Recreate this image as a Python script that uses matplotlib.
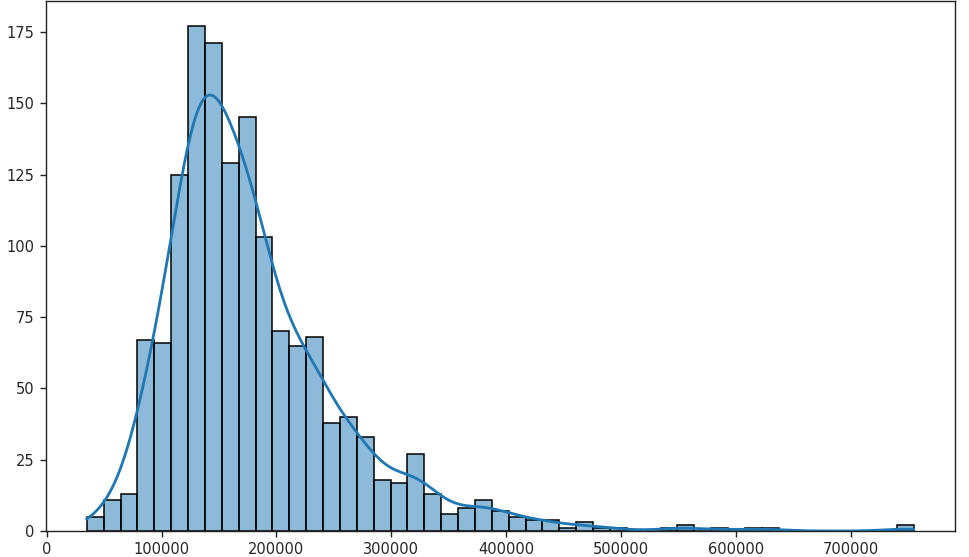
import numpy as np
import matplotlib
matplotlib.use("Agg")
import matplotlib.pyplot as plt

# Histogram of sale prices (49 equal-width bins between min and max)
price_min = 34900
price_max = 755000
counts = [5, 11, 13, 67, 66, 125, 177, 171, 129, 145,
          103, 70, 65, 68, 38, 40, 33, 18, 17, 27,
          13, 6, 8, 11, 7, 5, 4, 4, 1, 3,
          1, 1, 0, 0, 1, 2, 0, 1, 0, 1,
          1, 0, 0, 0, 0, 0, 0, 0, 2]
x_ticks = [0, 100000, 200000, 300000, 400000, 500000, 600000, 700000]
y_ticks = [0, 25, 50, 75, 100, 125, 150, 175]

counts = np.array(counts)
edges = np.linspace(price_min, price_max, len(counts) + 1)
centers = (edges[:-1] + edges[1:]) / 2
width = edges[1] - edges[0]

# KDE (Gaussian, Scott bandwidth) from the binned sample, scaled to counts
sample = np.repeat(centers, counts)
n = sample.size
bw = sample.std(ddof=1) * n ** (-1 / 5)
grid = np.linspace(price_min, price_max, 400)
dens = np.exp(-0.5 * ((grid[:, None] - sample[None, :]) / bw) ** 2).sum(axis=1)
dens = dens / (n * bw * np.sqrt(2 * np.pi))
kde_counts = dens * n * width

fig = plt.figure(figsize=(9.69, 5.57), dpi=100)
W, H = 969, 557
ax = fig.add_axes([45.5 / W, (H - 531) / H, (955 - 45.5) / W, (531 - 1) / H])

ax.bar(edges[:-1], counts, width=width, align="edge",
       facecolor=(0.1216, 0.4667, 0.7059, 0.5), edgecolor="black", linewidth=1.1)
ax.plot(grid, kde_counts, color="#1f77b4", linewidth=2.0)

ax.margins(x=0.05)
ax.set_xlim(price_min - 0.05 * (price_max - price_min) , price_max + 0.05 * (price_max - price_min))
ax.set_ylim(0, counts.max() * 1.05)
ax.set_xticks(x_ticks)
ax.set_yticks(y_ticks)
ax.tick_params(labelsize=10.5, length=4.5, width=1.0, colors="#222222", labelcolor="#262626")
for s in ax.spines.values():
    s.set_linewidth(1.0)
    s.set_color("#222222")

fig.savefig("out.png", dpi=100)
